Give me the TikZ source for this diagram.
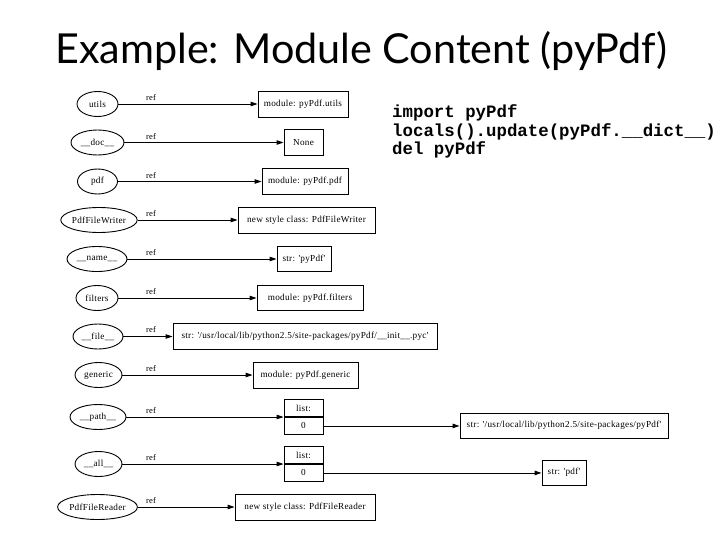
\documentclass[tikz,border=0pt]{standalone}
\usepackage{fontspec}
\usetikzlibrary{shapes.geometric,arrows.meta}
\setmainfont{Liberation Serif}
\newfontfamily\titlefont{Lato}
\newfontfamily\dgfont[LetterSpace=3]{Liberation Serif}
\newfontfamily\codefont{Liberation Mono}
\tikzset{
  every node/.style={font=\dgfont\fontsize{9.2}{10}\selectfont},
  oval/.style={ellipse, draw, line width=0.9pt, inner sep=0pt, minimum height=25pt},
  rbox/.style={rectangle, draw, line width=0.9pt, inner sep=0pt, minimum height=26pt},
  cell/.style={rectangle, draw, line width=0.9pt, inner sep=0pt, minimum width=39pt, minimum height=17pt},
  arr/.style={line width=0.9pt, -{Triangle[length=7pt,width=4.5pt]}},
  lbl/.style={inner sep=0pt, font=\dgfont\fontsize{8.5}{9}\selectfont},
  codeline/.style={anchor=base west, inner sep=0pt, font=\codefont\bfseries\fontsize{17.4}{18}\selectfont},
}
\begin{document}
\begin{tikzpicture}[x=1pt,y=-1pt]
\useasboundingbox[fill=white] (0,0) rectangle (728,546);
% title
\node[anchor=base west, inner sep=0pt, font=\titlefont\fontsize{41.3}{48}\selectfont] (title) at (55,63) {Example: Module Content (pyPdf)};
% code
\node[codeline] (c1) at (392,117.5) {import pyPdf};
\node[codeline] (c2) at (392,136) {locals().update(pyPdf.\_\_dict\_\_)};
\node[codeline] (c3) at (392,154.5) {del pyPdf};
% left ellipses
\node[oval, minimum width=41pt] (e1) at (97.5,104) {utils};
\node[oval, minimum width=53pt] (e2) at (97.5,142.5) {\_\_doc\_\_};
\node[oval, minimum width=40pt] (e3) at (97.5,181.5) {pdf};
\node[oval, minimum width=74pt] (e4) at (99,220) {PdfFileWriter};
\node[oval, minimum width=60pt] (e5) at (97,259) {\_\_name\_\_};
\node[oval, minimum width=42pt] (e6) at (97,298) {filters};
\node[oval, minimum width=50pt] (e7) at (98,336.5) {\_\_file\_\_};
\node[oval, minimum width=47pt] (e8) at (98.5,375) {generic};
\node[oval, minimum width=56pt] (e9) at (98,417) {\_\_path\_\_};
\node[oval, minimum width=47pt] (e10) at (98.5,464) {\_\_all\_\_};
\node[oval, minimum width=75pt] (e11) at (97.5,507) {PdfFileReader};
% target boxes
\node[rbox, minimum width=90pt] (b1) at (303,104) {module: pyPdf.utils};
\node[rbox, minimum width=39pt] (b2) at (303.5,142.5) {None};
\node[rbox, minimum width=86pt] (b3) at (305,181.5) {module: pyPdf.pdf};
\node[rbox, minimum width=137pt] (b4) at (306.5,220) {new style class: PdfFileWriter};
\node[rbox, minimum width=54pt, minimum height=25pt] (b5) at (304,259) {str: 'pyPdf'};
\node[rbox, minimum width=106pt, minimum height=25pt] (b6) at (310,298) {module: pyPdf.filters};
\node[rbox, minimum width=264pt, minimum height=26pt] (b7) at (305,336.5) {str: '/usr/local/lib/python2.5/site-packages/pyPdf/\_\_init\_\_.pyc'};
\node[rbox, minimum width=105pt, minimum height=26pt] (b8) at (305.5,375) {module: pyPdf.generic};
% records
\node[cell, anchor=south] (r1) at (303.5,417) {list:};
\node[cell, anchor=north] (r1z) at (303.5,417) {0};
\node[cell, anchor=south] (r2) at (303.5,464) {list:};
\node[cell, anchor=north] (r2z) at (303.5,464) {0};
\node[rbox, minimum width=140pt] (b11) at (305,507) {new style class: PdfFileReader};
\node[rbox, minimum width=208pt, minimum height=25pt] (s1) at (564,425.5) {str: '/usr/local/lib/python2.5/site-packages/pyPdf'};
\node[rbox, minimum width=44pt, minimum height=25pt] (s2) at (564,472.5) {str: 'pdf'};
% edges
\foreach \e/\b in {e1/b1,e2/b2,e3/b3,e4/b4,e5/b5,e6/b6,e7/b7,e8/b8,e11/b11}{
  \draw[arr] (\e) -- (\b);
}
\draw[arr] (e9.east) -- (r1.south west);
\draw[arr] (e10.east) -- (r2.south west);
\draw[arr] (r1z.east) -- (s1.west |- r1z.east);
\draw[arr] (r2z.east) -- (s2.west |- r2z.east);
% ref labels
\foreach \y/\n in {98/l1,137/l2,176/l3,214/l4,253/l5,292/l6,330/l7,369/l8,411/l9,458/l10,501/l11}{
  \node[lbl] (\n) at (151,\y) {ref};
}
\end{tikzpicture}
\end{document}
